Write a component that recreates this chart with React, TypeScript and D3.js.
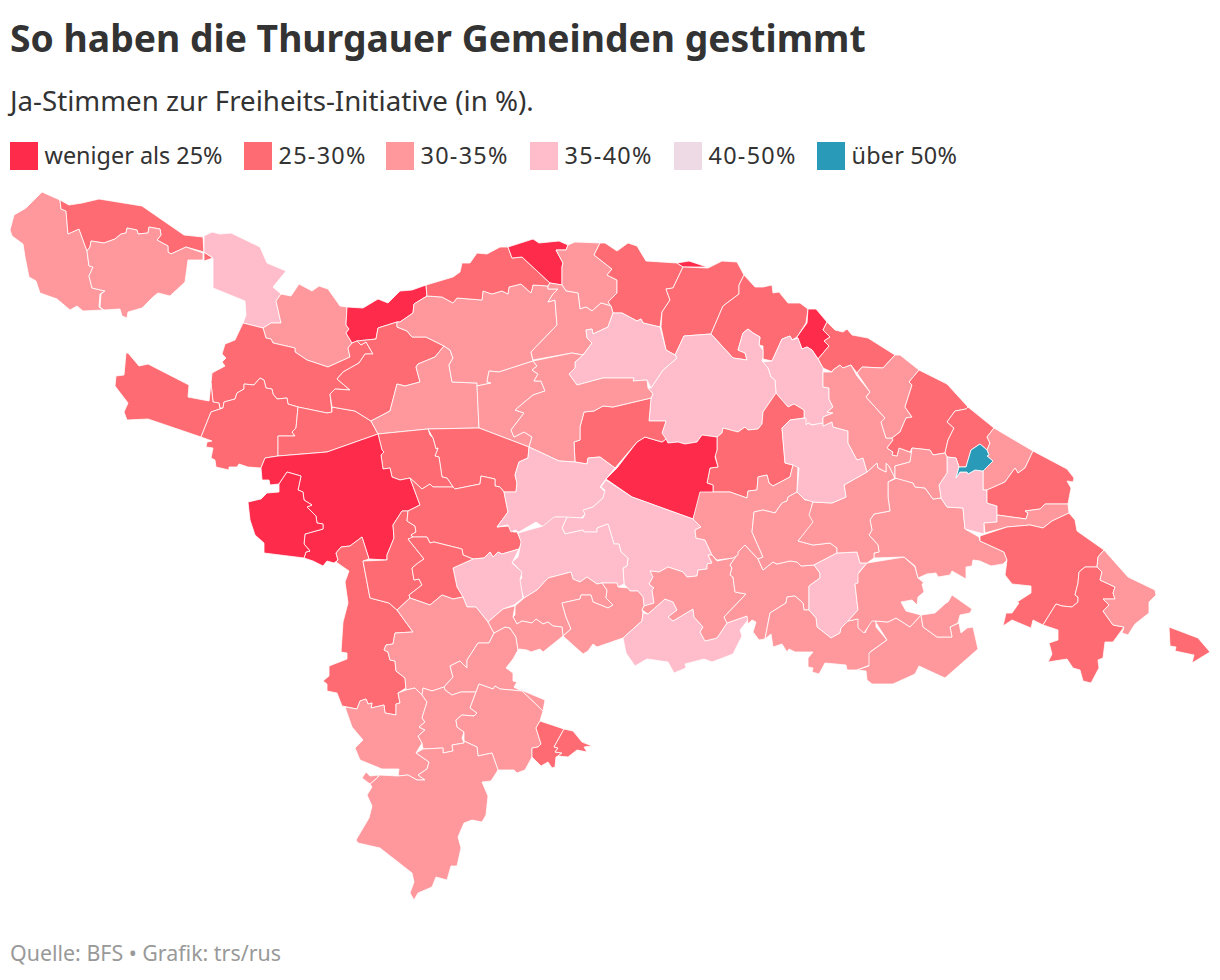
import React from "react";
import * as d3 from "d3";

type Pt = [number, number];

const TITLE = "So haben die Thurgauer Gemeinden gestimmt";
const SUBTITLE = "Ja-Stimmen zur Freiheits-Initiative (in %).";
const SOURCE = "Quelle: BFS • Grafik: trs/rus";

const legendLabels = ["weniger als 25%", "25-30%", "30-35%", "35-40%", "40-50%", "über 50%"];
const classColors = ["#ff2b4b", "#ff6b72", "#ff989d", "#ffbccb", "#eedae4", "#2a9ab9"];
const classBreaks = [25, 30, 35, 40, 50];

// Municipal outlines, in map-grid units
const westGemeinden: Pt[][] = [
  [[42,192],[60,200],[61,209],[66,211],[68,234],[79,229],[87,251],[89,266],[93,267],[89,276],[92,288],[105,291],[100,294],[99,307],[103,310],[83,311],[77,306],[70,310],[57,299],[40,293],[36,281],[29,277],[25,257],[23,244],[12,236],[10,230],[14,215],[26,208]],
  [[60,200],[69,205],[82,203],[99,199],[142,206],[184,235],[203,237],[204,252],[186,247],[171,254],[168,252],[168,246],[157,240],[161,235],[160,229],[149,227],[148,233],[138,234],[137,230],[127,228],[126,233],[121,234],[115,239],[104,243],[91,241],[90,247],[87,251],[79,229],[68,234],[66,211],[61,209]],
  [[204,252],[213,258],[204,261]],
  [[91,241],[104,243],[115,239],[121,234],[126,233],[127,228],[137,230],[138,234],[148,233],[149,227],[160,229],[161,235],[157,240],[168,246],[168,252],[171,254],[186,247],[203,253],[203,260],[188,260],[185,282],[170,296],[158,293],[153,297],[142,308],[128,312],[127,318],[122,316],[120,309],[104,310],[100,307],[101,294],[105,291],[92,288],[89,276],[93,267],[89,266],[87,251],[90,247]],
  [[204,236],[212,232],[220,234],[231,233],[260,247],[267,263],[286,271],[273,287],[281,294],[276,301],[281,323],[271,323],[263,328],[243,323],[246,315],[245,301],[213,288],[213,258],[204,252]],
  [[281,294],[291,296],[299,284],[312,291],[319,286],[328,289],[340,306],[347,307],[346,325],[349,329],[346,333],[352,343],[348,348],[350,357],[328,367],[307,360],[295,352],[295,348],[273,343],[271,339],[266,338],[263,328],[271,323],[281,323],[276,301]],
  [[347,307],[363,308],[378,299],[388,303],[400,291],[412,290],[426,285],[427,296],[414,304],[413,313],[400,322],[397,322],[378,328],[376,339],[357,341],[352,343],[346,333],[349,329],[346,325]],
  [[243,323],[263,328],[266,338],[271,339],[273,343],[295,348],[295,352],[307,360],[328,367],[350,357],[348,348],[352,343],[357,341],[361,345],[366,342],[373,354],[365,354],[359,363],[343,372],[337,379],[350,390],[335,389],[330,394],[332,412],[327,413],[298,407],[288,404],[287,398],[277,399],[273,394],[272,389],[266,388],[264,380],[260,378],[254,385],[244,384],[244,389],[237,393],[235,399],[224,402],[223,408],[220,408],[219,403],[213,402],[211,383],[212,373],[225,366],[222,362],[226,358],[222,354],[225,344],[235,340]],
  [[126,353],[128,353],[139,366],[148,364],[189,385],[188,397],[209,401],[211,383],[213,402],[219,403],[220,409],[211,412],[201,437],[148,419],[127,420],[124,412],[128,403],[115,386],[116,376],[124,375]],
  [[211,412],[220,409],[223,408],[224,402],[235,399],[237,393],[244,389],[244,384],[254,385],[260,378],[264,380],[266,388],[272,389],[273,394],[277,399],[287,398],[288,404],[298,407],[296,428],[292,432],[295,436],[278,436],[278,456],[265,458],[261,468],[248,467],[239,464],[237,467],[229,467],[229,470],[216,467],[215,460],[211,458],[213,448],[206,447],[207,442],[212,441],[201,437]],
  [[298,407],[327,413],[332,412],[332,407],[355,411],[371,421],[378,434],[327,452],[278,456],[278,436],[295,436],[292,432],[296,428]],
  [[337,379],[343,372],[359,363],[365,354],[373,354],[366,342],[361,345],[357,341],[376,339],[378,328],[397,322],[397,327],[407,331],[412,337],[426,337],[444,346],[435,357],[418,364],[416,367],[420,382],[405,386],[397,384],[390,411],[371,421],[355,411],[332,407],[330,394],[335,389],[350,390]],
  [[444,346],[450,350],[453,358],[449,365],[452,382],[477,383],[479,428],[428,429],[378,434],[371,421],[390,411],[397,384],[405,386],[420,382],[416,367],[418,364],[435,357]],
];
const westShare = [32, 28, 28, 33, 37, 33, 23, 28, 27, 28, 28, 27, 32];

const northGemeinden: Pt[][] = [
  [[427,296],[442,297],[453,303],[457,298],[482,300],[483,291],[492,294],[502,291],[508,294],[509,287],[521,284],[531,293],[533,285],[548,286],[548,289],[558,289],[553,294],[548,302],[555,300],[557,325],[531,352],[533,361],[499,372],[489,371],[487,382],[491,383],[477,386],[477,383],[452,382],[449,365],[453,358],[450,350],[444,346],[426,337],[412,337],[407,331],[397,327],[397,322],[400,322],[413,313],[414,304]],
  [[426,285],[453,277],[460,272],[462,263],[470,263],[477,253],[487,254],[500,247],[508,247],[512,258],[522,257],[550,283],[548,286],[533,285],[531,293],[521,284],[509,287],[508,294],[502,291],[492,294],[483,291],[482,300],[457,298],[453,303],[442,297],[427,296]],
  [[508,247],[533,239],[539,243],[559,241],[568,245],[566,250],[556,250],[563,263],[562,267],[562,285],[550,283],[522,257],[512,258]],
  [[568,245],[575,242],[600,243],[594,255],[612,269],[607,275],[617,280],[617,293],[608,302],[611,306],[601,303],[592,311],[586,307],[580,309],[578,293],[566,291],[562,285],[562,267],[563,263],[556,250],[566,250]],
  [[600,243],[605,243],[617,251],[628,243],[637,246],[646,261],[677,263],[683,267],[673,288],[666,289],[670,300],[662,312],[660,327],[643,323],[641,319],[637,321],[622,313],[613,313],[611,306],[608,302],[617,293],[617,280],[607,275],[612,269],[594,255]],
  [[677,263],[689,261],[707,267],[683,267]],
  [[683,267],[708,268],[722,261],[737,262],[744,275],[739,285],[739,294],[723,306],[711,334],[684,336],[675,355],[666,350],[661,327],[662,312],[670,300],[666,289],[673,288]],
  [[744,275],[755,287],[763,287],[772,285],[773,293],[779,292],[788,303],[800,303],[808,309],[806,323],[797,337],[792,340],[790,336],[782,339],[772,361],[763,359],[763,346],[759,345],[760,337],[753,333],[748,329],[743,333],[738,350],[745,353],[747,360],[733,358],[711,334],[723,306],[739,294],[739,285]],
  [[808,309],[816,309],[827,322],[823,330],[830,337],[824,341],[829,346],[818,359],[812,350],[807,347],[802,349],[797,337],[807,323]],
  [[827,322],[835,330],[843,332],[847,329],[852,335],[868,338],[895,355],[883,368],[862,367],[857,373],[851,365],[843,368],[840,365],[833,370],[832,372],[823,368],[818,359],[829,346],[824,341],[830,337],[823,330]],
  [[818,359],[823,368],[823,387],[829,388],[829,399],[833,407],[827,412],[833,413],[823,417],[823,423],[812,425],[808,423],[806,425],[804,417],[804,410],[794,404],[788,407],[776,393],[775,380],[771,377],[768,368],[762,362],[772,361],[782,339],[790,336],[792,340],[798,338],[802,349],[807,347],[812,350]],
];
const northShare = [33, 28, 24, 33, 28, 24, 28, 28, 23, 28, 37];

const centreGemeinden: Pt[][] = [
  [[684,336],[711,334],[733,358],[747,360],[745,353],[738,350],[743,333],[748,329],[753,333],[760,337],[759,345],[763,350],[763,357],[762,361],[768,368],[771,377],[775,380],[776,393],[763,412],[762,424],[758,429],[748,430],[745,427],[738,432],[723,428],[722,433],[717,437],[702,435],[697,442],[685,444],[678,442],[668,443],[662,433],[666,421],[649,421],[651,398],[653,394],[648,388],[651,388],[663,370],[677,358],[675,355]],
  [[776,393],[788,407],[794,404],[804,410],[804,418],[790,420],[782,428],[785,463],[793,465],[790,477],[773,486],[769,483],[767,475],[758,477],[757,490],[748,491],[747,498],[730,492],[713,492],[713,485],[707,483],[710,468],[718,467],[715,455],[717,450],[717,437],[722,433],[723,428],[738,432],[745,427],[748,430],[758,429],[762,424],[763,412]],
  [[606,479],[617,468],[637,442],[645,437],[662,442],[666,439],[668,443],[678,442],[685,444],[697,442],[702,435],[717,437],[717,450],[715,457],[718,467],[710,468],[707,483],[713,485],[713,493],[702,493],[693,519],[632,497]],
  [[575,462],[574,442],[580,440],[580,427],[584,412],[594,411],[603,406],[613,407],[651,398],[649,421],[666,421],[662,433],[666,439],[662,442],[645,437],[637,442],[615,468],[600,457],[588,458],[587,464]],
  [[531,352],[557,325],[555,300],[548,302],[553,294],[558,289],[548,289],[548,286],[550,283],[562,285],[566,291],[578,293],[580,309],[586,307],[592,311],[601,303],[611,306],[613,313],[608,327],[593,334],[592,329],[586,330],[587,338],[592,343],[583,355],[572,353],[533,360]],
  [[592,343],[587,338],[586,330],[592,329],[593,334],[608,327],[613,313],[622,313],[637,321],[641,319],[643,323],[660,327],[666,350],[675,355],[677,358],[663,370],[651,388],[647,380],[633,381],[634,378],[603,378],[577,385],[569,374],[575,368],[575,362],[583,355]],
  [[477,386],[491,383],[487,382],[489,371],[499,372],[533,361],[537,366],[532,370],[538,374],[534,381],[541,381],[545,391],[533,395],[515,410],[524,413],[511,430],[514,437],[524,432],[532,437],[529,447],[479,428]],
  [[533,361],[572,353],[583,355],[575,362],[575,368],[569,374],[577,385],[603,378],[634,378],[633,381],[647,380],[648,388],[653,394],[651,398],[613,407],[603,406],[594,411],[584,412],[580,427],[580,440],[574,442],[575,462],[559,461],[529,447],[532,437],[524,432],[514,437],[511,430],[524,413],[515,410],[533,395],[545,391],[541,381],[534,381],[538,374],[532,370],[537,366]],
  [[428,429],[479,428],[529,447],[528,458],[519,462],[515,475],[517,483],[516,492],[504,492],[500,487],[495,486],[495,479],[481,476],[480,484],[455,489],[453,487],[447,478],[442,477],[439,457],[435,456],[438,448],[436,449],[433,438]],
  [[378,434],[428,429],[430,435],[433,438],[436,449],[438,448],[435,456],[439,457],[442,477],[447,478],[453,487],[433,487],[430,484],[422,489],[410,478],[400,480],[392,477],[390,468],[383,469],[381,455],[384,452],[382,450]],
];
const centreShare = [37, 28, 23, 28, 33, 37, 33, 32, 28, 28];

const southWestGemeinden: Pt[][] = [
  [[265,458],[278,456],[327,452],[378,434],[382,450],[384,452],[381,455],[383,469],[390,468],[392,477],[400,480],[410,478],[420,505],[408,511],[402,511],[393,525],[394,538],[387,555],[387,560],[369,559],[362,537],[350,546],[341,547],[336,553],[338,560],[334,563],[327,561],[323,566],[313,561],[304,558],[306,552],[310,551],[304,544],[305,534],[323,529],[323,524],[317,523],[316,516],[307,507],[312,505],[304,500],[303,492],[298,490],[301,476],[287,472],[279,484],[270,485],[269,480],[262,480],[261,468]],
  [[279,484],[287,472],[301,476],[298,490],[303,492],[304,500],[312,505],[307,507],[316,516],[317,523],[323,524],[323,529],[305,534],[304,544],[310,551],[306,552],[304,558],[264,553],[264,543],[255,535],[250,520],[248,502],[261,499],[267,493],[279,492]],
  [[338,560],[336,562],[349,571],[345,582],[348,603],[343,622],[341,652],[347,653],[347,659],[329,666],[329,676],[323,681],[327,684],[327,691],[337,693],[342,706],[357,709],[360,701],[366,699],[368,704],[372,703],[371,708],[384,705],[385,713],[396,715],[396,704],[400,703],[398,693],[406,688],[405,678],[396,671],[395,661],[390,660],[388,652],[384,650],[386,645],[393,644],[395,633],[413,632],[397,610],[389,603],[370,598],[363,561],[369,559],[362,537],[350,546],[341,547],[336,553]],
  [[363,561],[387,560],[387,555],[394,538],[393,525],[402,511],[408,511],[407,521],[415,526],[416,532],[411,535],[413,538],[408,539],[424,559],[418,563],[412,568],[414,580],[419,579],[422,585],[409,595],[410,598],[397,610],[389,603],[370,598]],
  [[410,478],[422,489],[430,484],[433,487],[453,487],[455,489],[480,484],[481,476],[495,479],[495,486],[500,487],[504,492],[508,512],[497,527],[509,526],[511,528],[513,532],[517,532],[522,542],[519,549],[502,554],[498,552],[493,557],[490,552],[484,558],[473,559],[463,555],[462,549],[434,542],[430,543],[427,537],[413,537],[411,535],[416,532],[415,526],[407,521],[408,511],[420,505]],
  [[504,492],[516,492],[517,483],[515,475],[519,462],[528,458],[529,447],[559,461],[575,462],[587,464],[588,458],[600,457],[615,468],[606,479],[600,487],[605,492],[603,498],[593,507],[584,510],[585,514],[581,518],[556,517],[543,527],[536,522],[519,532],[515,530],[511,532],[508,525],[497,527],[508,512]],
  [[606,480],[632,497],[693,519],[701,527],[695,530],[696,538],[705,540],[712,555],[708,555],[712,563],[707,564],[707,569],[698,570],[697,576],[687,577],[683,572],[668,567],[659,572],[650,571],[653,577],[649,584],[654,588],[652,590],[654,603],[644,606],[643,597],[638,591],[630,591],[624,584],[623,568],[627,566],[628,558],[621,552],[619,544],[614,544],[608,524],[597,528],[597,532],[584,532],[583,530],[565,534],[562,528],[567,517],[583,518],[585,514],[583,510],[593,507],[603,498],[605,490],[601,487]],
  [[518,533],[543,526],[554,517],[567,517],[562,528],[565,534],[583,530],[584,532],[597,532],[597,528],[608,524],[614,544],[619,544],[621,552],[628,558],[627,566],[623,568],[624,584],[618,587],[617,583],[602,583],[597,584],[587,577],[580,582],[573,579],[571,572],[548,578],[537,590],[524,598],[518,582],[522,578],[520,570],[512,562],[518,557],[521,542]],
  [[453,568],[473,559],[484,558],[490,552],[493,557],[498,552],[502,554],[519,549],[512,563],[522,572],[520,580],[523,598],[514,605],[503,609],[488,622],[476,607],[467,607],[463,597],[457,587]],
  [[422,585],[419,579],[414,580],[412,568],[418,563],[424,559],[408,539],[413,537],[427,537],[430,543],[434,542],[462,549],[463,555],[473,559],[453,568],[457,587],[463,597],[453,599],[442,595],[430,605],[410,598],[409,595]],
];
const southWestShare = [23, 23, 28, 28, 28, 37, 37, 37, 37, 28];

const southGemeinden: Pt[][] = [
  [[397,610],[410,598],[430,605],[442,595],[453,599],[463,597],[467,607],[476,607],[488,622],[494,633],[489,643],[478,643],[467,660],[467,668],[460,661],[450,666],[453,677],[444,687],[432,691],[423,688],[422,695],[415,688],[406,690],[405,678],[396,671],[395,661],[390,660],[388,652],[384,650],[386,645],[393,644],[395,633],[413,632]],
  [[494,633],[505,627],[510,628],[516,637],[518,650],[513,659],[506,668],[513,673],[513,681],[517,682],[514,687],[522,691],[500,689],[495,686],[493,689],[479,684],[476,692],[461,692],[452,695],[445,690],[444,687],[453,677],[450,666],[460,661],[467,668],[467,660],[478,643],[489,643]],
  [[522,691],[514,687],[545,700],[543,711]],
  [[345,707],[357,709],[360,701],[366,699],[368,704],[372,703],[371,708],[384,705],[385,713],[396,715],[396,704],[400,703],[398,693],[406,690],[415,688],[422,695],[427,702],[422,718],[425,722],[419,727],[425,730],[418,736],[422,743],[416,753],[429,762],[427,769],[418,775],[425,780],[417,780],[408,775],[398,776],[399,769],[382,769],[360,760],[355,748],[363,740],[352,727]],
  [[427,702],[422,695],[423,688],[432,691],[444,687],[445,690],[452,695],[461,692],[476,692],[470,708],[477,713],[474,716],[462,715],[456,720],[457,727],[464,732],[462,738],[464,743],[452,745],[453,751],[443,753],[443,748],[423,749],[422,743],[418,736],[425,730],[419,727],[425,722],[422,718]],
  [[476,692],[479,684],[493,689],[495,686],[500,689],[522,691],[543,711],[540,721],[536,728],[541,744],[538,747],[532,748],[532,757],[525,770],[517,773],[514,770],[498,770],[492,753],[478,756],[477,747],[464,741],[464,732],[457,727],[456,720],[462,715],[474,716],[477,713],[470,708]],
  [[423,749],[443,748],[443,753],[453,751],[452,745],[464,743],[464,741],[477,747],[478,756],[492,753],[498,770],[491,781],[482,782],[488,796],[486,815],[482,822],[472,820],[464,823],[458,837],[461,848],[457,866],[451,866],[447,880],[436,877],[432,887],[418,893],[414,900],[410,893],[414,882],[412,873],[380,848],[358,843],[356,840],[369,818],[372,806],[367,795],[372,787],[370,784],[378,777],[379,775],[398,776],[408,775],[417,780],[425,780],[418,775],[427,769],[429,762],[416,753]],
  [[362,778],[366,772],[370,776],[378,775],[378,777],[370,784]],
  [[540,721],[564,729],[554,747],[558,748],[555,752],[562,753],[558,756],[556,757],[555,767],[552,768],[548,762],[541,766],[532,757],[532,748],[538,747],[541,744],[536,728]],
  [[564,729],[573,731],[582,742],[592,746],[584,747],[587,752],[577,750],[568,757],[558,756],[562,753],[555,752],[558,748],[554,747]],
  [[515,606],[524,598],[537,590],[548,578],[571,572],[573,579],[580,582],[587,577],[597,584],[602,583],[607,590],[606,598],[613,605],[608,608],[593,602],[591,595],[581,595],[580,599],[562,603],[566,617],[571,629],[563,636],[562,627],[553,626],[548,622],[543,624],[536,619],[532,623],[522,621],[517,624],[513,617],[515,615]],
  [[602,583],[617,583],[618,587],[628,588],[630,591],[638,591],[643,597],[644,606],[642,610],[643,613],[642,621],[623,638],[597,647],[593,644],[588,651],[583,654],[563,636],[571,629],[566,617],[562,603],[580,599],[581,595],[591,595],[593,602],[608,608],[613,605],[606,598],[607,590]],
  [[488,622],[503,609],[514,606],[515,606],[513,617],[517,624],[522,621],[532,623],[536,619],[543,624],[548,622],[553,626],[562,627],[563,636],[543,652],[540,649],[531,652],[527,650],[519,649],[518,650],[516,637],[510,628],[505,627],[494,633]],
  [[623,638],[642,621],[643,613],[648,614],[665,599],[673,602],[677,610],[668,617],[673,621],[693,609],[694,617],[703,627],[700,632],[705,641],[717,638],[727,623],[747,616],[748,620],[740,630],[742,636],[733,654],[712,662],[704,659],[685,664],[686,668],[674,673],[668,662],[647,659],[635,666],[626,653]],
];
const southShare = [32, 33, 33, 32, 32, 32, 33, 32, 28, 28, 32, 32, 33, 37];

const thurGemeinden: Pt[][] = [
  [[644,606],[654,603],[652,590],[654,588],[649,584],[653,577],[650,571],[659,572],[668,567],[683,572],[687,577],[697,576],[698,570],[707,569],[707,564],[712,563],[708,555],[712,555],[717,561],[732,558],[737,555],[730,565],[732,568],[730,575],[733,577],[735,592],[746,594],[724,617],[727,623],[717,638],[705,641],[700,632],[703,627],[694,617],[693,609],[673,621],[668,617],[677,610],[673,602],[665,599],[648,614],[642,610]],
  [[737,555],[738,552],[745,545],[758,559],[763,570],[773,562],[777,564],[790,561],[797,562],[801,566],[814,565],[820,573],[820,578],[809,586],[809,610],[804,610],[803,603],[795,596],[787,597],[786,603],[770,613],[765,639],[759,640],[753,632],[756,622],[752,620],[748,624],[747,616],[727,623],[724,617],[746,594],[735,592],[733,577],[730,575],[732,568],[730,565]],
  [[693,519],[700,492],[730,492],[747,498],[748,491],[757,490],[758,477],[767,475],[769,483],[773,486],[790,477],[793,465],[798,465],[797,492],[788,497],[787,501],[782,503],[775,513],[763,510],[754,512],[752,532],[763,557],[758,559],[745,545],[738,552],[738,555],[733,558],[717,560],[712,555],[705,540],[696,538],[695,530],[701,527]],
  [[754,512],[763,510],[775,513],[782,503],[787,501],[788,497],[797,492],[805,500],[813,500],[810,515],[814,522],[798,541],[813,545],[830,543],[837,548],[837,553],[814,565],[801,566],[797,562],[790,561],[777,564],[773,562],[763,570],[758,559],[763,557],[752,532]],
  [[814,565],[837,553],[857,552],[860,563],[867,563],[859,572],[859,583],[855,584],[858,610],[848,621],[841,628],[840,633],[831,638],[817,627],[816,618],[809,610],[809,586],[820,578],[820,573]],
  [[848,621],[858,619],[859,621],[858,625],[865,633],[871,620],[876,621],[876,627],[887,640],[870,652],[870,665],[857,670],[847,670],[846,665],[825,663],[819,674],[812,672],[813,668],[808,667],[808,658],[813,652],[795,652],[789,649],[787,652],[782,644],[773,647],[771,634],[765,639],[770,613],[786,603],[787,597],[795,596],[803,603],[804,610],[809,610],[816,618],[817,627],[831,638],[840,633],[841,628]],
  [[875,621],[888,622],[896,618],[910,627],[921,615],[923,627],[937,637],[952,637],[950,627],[959,623],[961,633],[967,628],[973,627],[978,649],[945,678],[919,666],[915,674],[893,684],[872,684],[867,680],[866,671],[857,670],[869,666],[869,653],[887,640]],
  [[921,615],[935,613],[946,603],[948,602],[952,595],[972,609],[970,613],[960,615],[958,623],[950,627],[952,637],[937,637],[923,627]],
  [[858,574],[867,563],[904,557],[915,567],[918,578],[924,583],[922,584],[924,592],[918,597],[917,605],[912,600],[901,602],[906,611],[921,615],[910,627],[896,618],[888,622],[875,621],[872,621],[864,633],[858,628],[858,619],[848,621],[858,610],[855,584],[858,583]],
  [[874,558],[904,557],[915,566],[918,578],[927,574],[936,573],[938,577],[950,575],[952,571],[966,579],[966,567],[972,566],[973,560],[980,561],[991,566],[1003,564],[1007,560],[1004,552],[980,541],[979,537],[965,529],[963,508],[947,507],[941,498],[933,499],[925,488],[915,487],[913,483],[897,478],[888,482],[888,497],[890,511],[874,514],[870,520],[872,530],[869,535],[878,545],[879,552],[874,553]],
  [[798,541],[813,522],[809,515],[813,502],[832,503],[846,497],[844,485],[867,472],[877,463],[878,468],[886,472],[886,463],[889,466],[895,478],[888,482],[888,497],[890,511],[874,514],[870,520],[872,530],[869,535],[878,545],[879,552],[874,553],[874,558],[867,563],[860,563],[857,552],[837,553],[837,548],[830,543],[813,545]],
  [[782,428],[790,420],[806,418],[806,425],[808,423],[812,425],[823,423],[823,426],[832,422],[833,427],[848,431],[848,443],[857,460],[863,458],[867,472],[844,485],[846,497],[832,503],[813,502],[804,499],[797,492],[799,468],[793,465],[785,463]],
];
const thurShare = [33, 32, 32, 32, 37, 32, 32, 33, 32, 32, 33, 37];

const eastGemeinden: Pt[][] = [
  [[823,426],[823,417],[833,413],[827,412],[833,407],[829,399],[829,388],[823,387],[823,372],[832,372],[833,370],[840,365],[843,368],[851,365],[857,376],[870,392],[866,397],[885,418],[881,422],[886,438],[892,438],[893,440],[887,448],[893,452],[892,455],[897,456],[899,448],[912,453],[910,462],[895,466],[895,478],[889,466],[886,463],[886,472],[878,468],[877,463],[867,472],[863,458],[857,460],[848,443],[848,431],[833,427],[832,422]],
  [[857,373],[862,367],[883,368],[895,355],[900,355],[919,370],[909,382],[912,385],[905,407],[912,417],[906,418],[900,432],[892,438],[886,438],[881,422],[885,418],[866,397],[870,392]],
  [[919,370],[947,384],[968,407],[966,409],[955,411],[947,422],[954,428],[948,440],[945,453],[933,455],[930,450],[912,448],[910,452],[899,448],[897,456],[892,455],[893,452],[887,448],[893,440],[892,438],[900,432],[906,418],[912,417],[905,407],[912,385],[909,382]],
  [[968,407],[994,428],[987,437],[990,443],[987,450],[980,444],[971,450],[966,467],[959,467],[956,458],[947,457],[945,453],[948,440],[954,428],[947,422],[955,411],[966,409]],
  [[994,428],[1033,451],[1025,468],[1018,473],[1015,468],[1005,482],[987,490],[983,490],[983,471],[993,461],[987,456],[989,455],[987,450],[990,443],[987,437]],
  [[947,457],[956,458],[959,467],[956,478],[960,472],[967,472],[968,474],[975,470],[983,471],[983,490],[987,490],[987,503],[997,506],[997,522],[984,523],[984,534],[965,529],[963,508],[947,507],[941,498],[939,485],[947,473]],
  [[980,444],[987,450],[989,455],[987,456],[993,461],[983,471],[975,470],[968,474],[967,472],[960,472],[956,478],[959,467],[966,467],[971,450]],
  [[895,466],[910,462],[912,448],[930,450],[933,455],[945,453],[947,457],[947,473],[939,485],[941,498],[933,499],[925,488],[915,487],[913,483],[895,478]],
  [[987,490],[1005,482],[1015,468],[1018,473],[1025,468],[1033,451],[1067,469],[1074,478],[1073,482],[1067,481],[1071,488],[1068,504],[1045,504],[1040,509],[1025,511],[1028,513],[1026,519],[997,515],[997,506],[987,503]],
  [[997,515],[1026,519],[1028,513],[1025,511],[1040,509],[1045,504],[1068,504],[1069,513],[1052,521],[1043,528],[1030,525],[1007,527],[985,533],[984,523],[997,522]],
  [[980,536],[1007,527],[1030,525],[1043,528],[1052,521],[1069,513],[1075,520],[1077,531],[1104,550],[1098,557],[1097,567],[1085,567],[1079,572],[1078,583],[1075,595],[1078,597],[1078,602],[1072,607],[1062,606],[1056,604],[1043,625],[1033,620],[1031,628],[1012,620],[1003,626],[1006,613],[1012,613],[1019,603],[1017,602],[1031,593],[1031,586],[1012,584],[1005,575],[1007,560],[1004,552],[980,541]],
  [[1043,625],[1056,604],[1062,606],[1072,607],[1078,602],[1078,597],[1075,595],[1078,583],[1079,572],[1085,567],[1097,567],[1102,572],[1100,580],[1115,587],[1113,593],[1115,599],[1103,599],[1109,605],[1103,611],[1113,625],[1124,627],[1113,642],[1105,642],[1103,658],[1098,660],[1099,668],[1091,683],[1083,681],[1080,670],[1073,668],[1067,659],[1048,662],[1052,654],[1049,643],[1058,640],[1058,630]],
  [[1104,550],[1128,577],[1155,590],[1156,595],[1149,602],[1149,613],[1135,624],[1128,635],[1122,633],[1124,627],[1113,625],[1103,611],[1109,605],[1103,599],[1115,599],[1113,593],[1115,587],[1100,580],[1102,572],[1097,567],[1098,557]],
  [[1169,627],[1198,638],[1210,652],[1192,663],[1194,655],[1175,651],[1176,647],[1170,646]],
];
const eastShare = [32, 33, 28, 28, 33, 37, 55, 33, 28, 33, 28, 28, 32, 28];

const FONT = "'Noto Sans', sans-serif";
const INK = "#333333";
const GREY = "#999999";
const legendX = [10, 244, 386, 530, 674, 817];
const legendTracking = [0, 1.3, 1.3, 1.3, 1.3, 0.2];

const rings: Pt[][] = [...westGemeinden, ...northGemeinden, ...centreGemeinden, ...southWestGemeinden, ...southGemeinden, ...thurGemeinden, ...eastGemeinden];
const shares: number[] = [...westShare, ...northShare, ...centreShare, ...southWestShare, ...southShare, ...thurShare, ...eastShare];

export default function App() {
  const color = d3.scaleThreshold<number, string>().domain(classBreaks).range(classColors);
  const path = d3.geoPath(d3.geoIdentity());
  return (
    <svg width={1220} height={980} viewBox="0 0 1220 980" style={{ position: "absolute", left: 0, top: 0, background: "#fff" }} fontFamily={FONT}>
      <text x={10} y={52} fontSize={37.3} fontWeight={700} fill={INK}>{TITLE}</text>
      <text x={10} y={111} fontSize={27.7} fill={INK}>{SUBTITLE}</text>
      {legendLabels.map((label, i) => (
        <g key={label}>
          <rect x={legendX[i]} y={142} width={28} height={28} fill={classColors[i]} />
          <text x={legendX[i] + 34.5} y={164} fontSize={23.4} letterSpacing={legendTracking[i]} fill={INK}>{label}</text>
        </g>
      ))}
      <g stroke="#fff" strokeWidth={0.8} strokeLinejoin="round">
        {rings.map((ring, i) => (
          <path key={i} d={path({ type: "Polygon", coordinates: [[...ring, ring[0]]] } as any) ?? ""} fill={color(shares[i])} />
        ))}
      </g>
      <text x={10} y={961} fontSize={21.4} fill={GREY}>{SOURCE}</text>
    </svg>
  );
}
